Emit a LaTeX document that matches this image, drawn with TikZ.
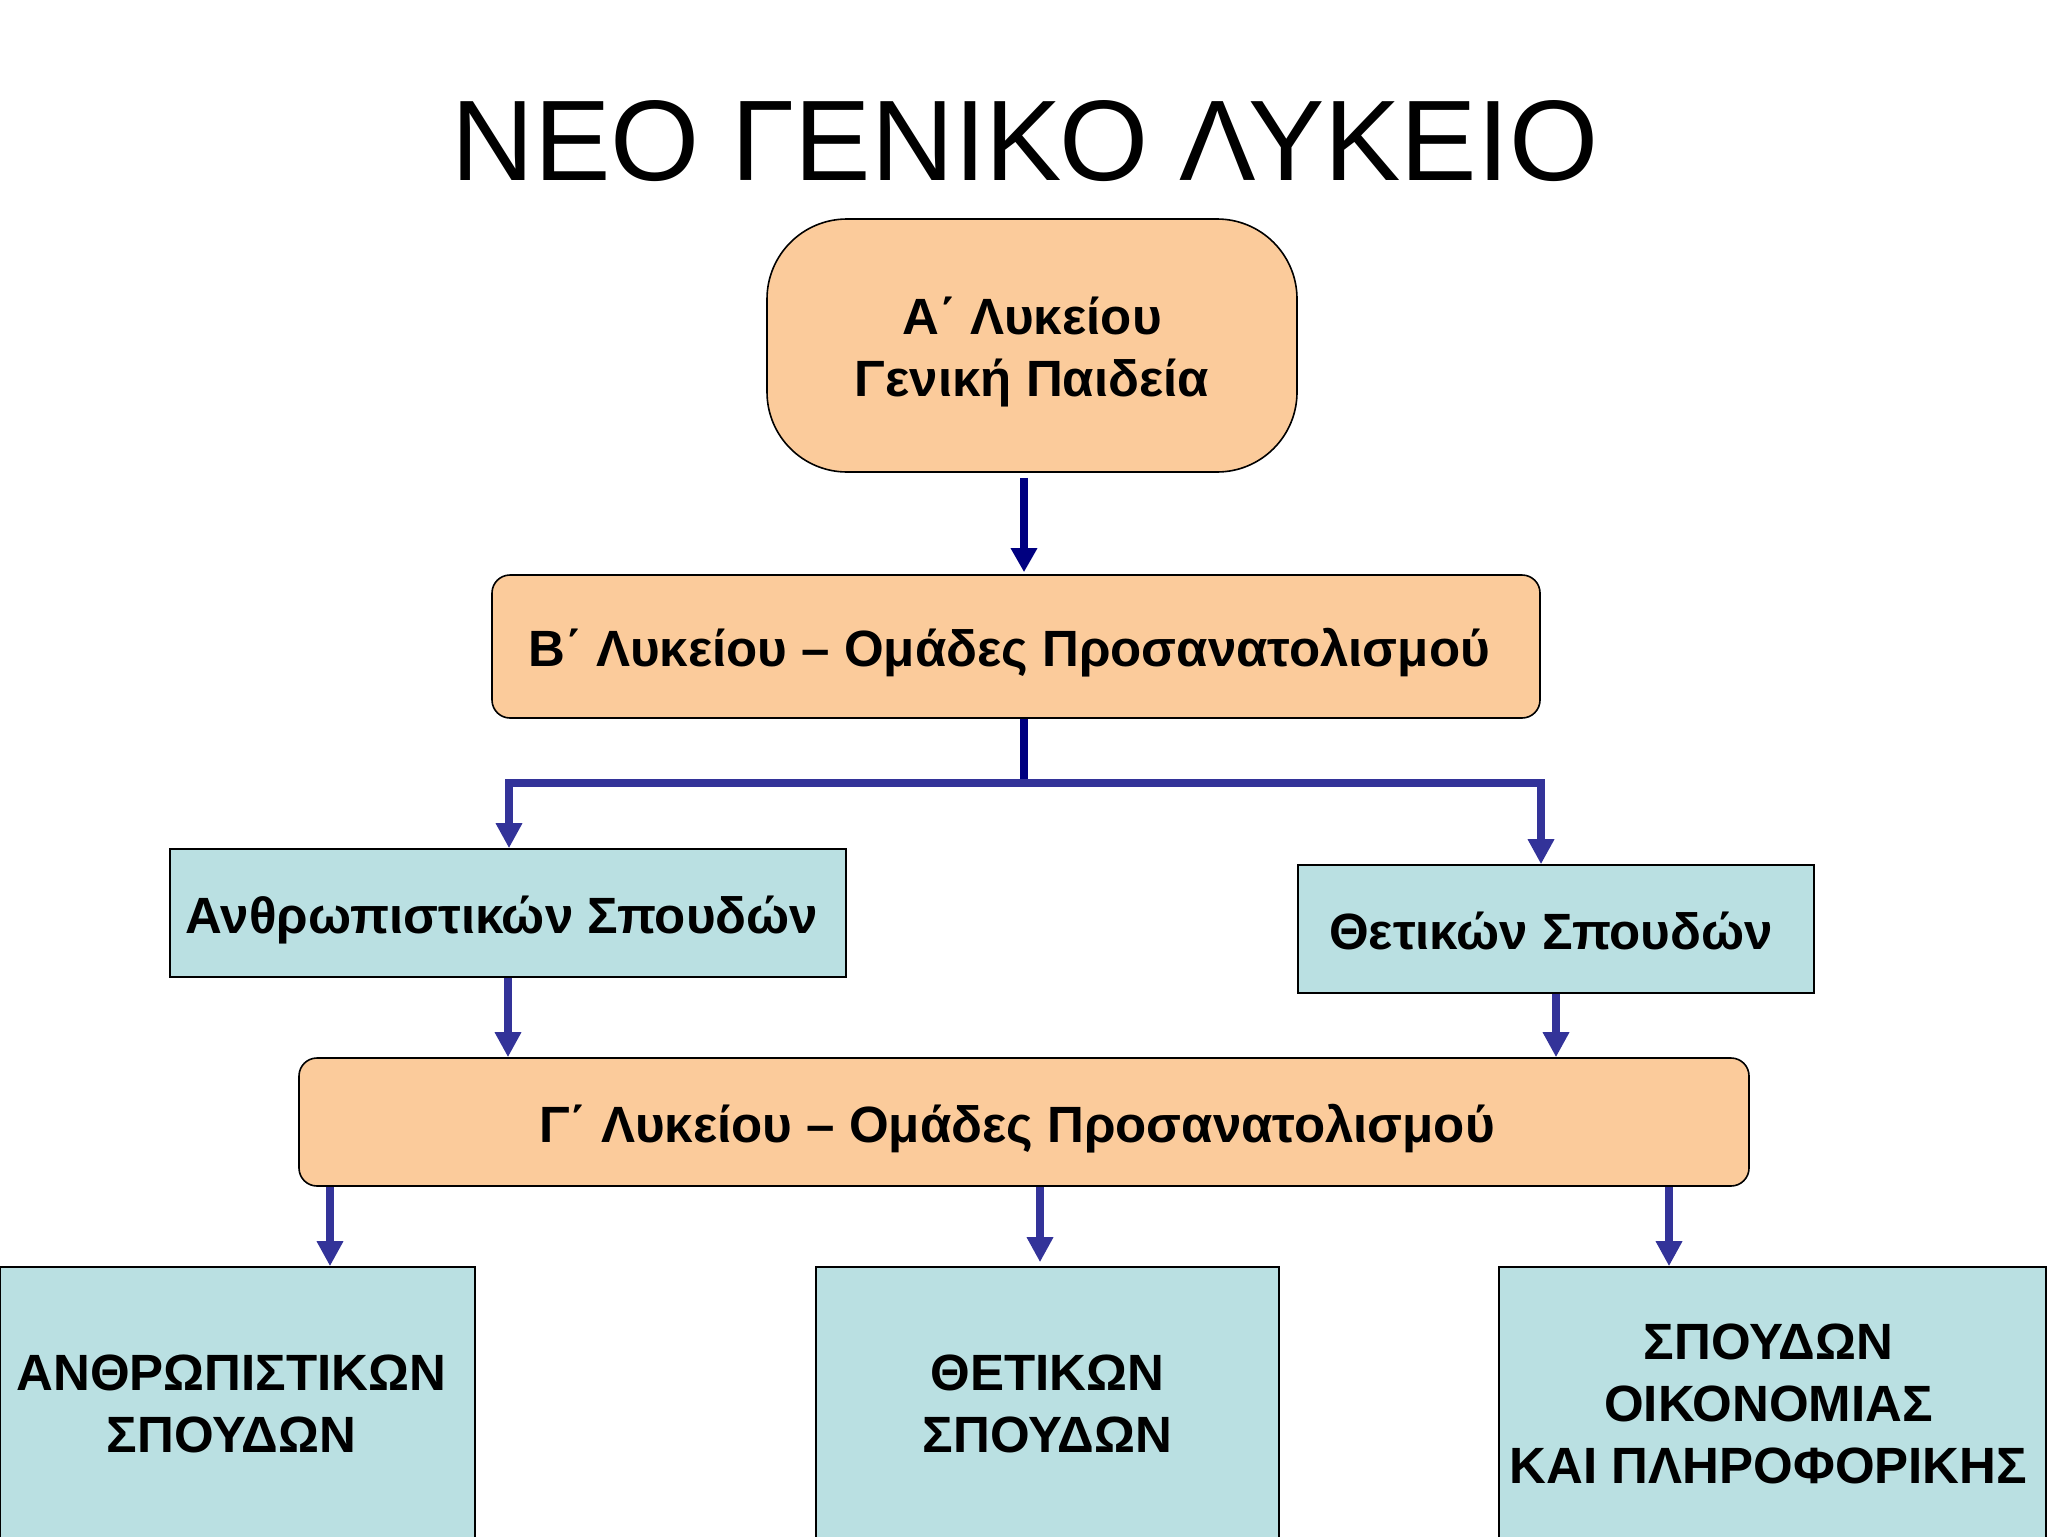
\documentclass[tikz,border=0pt]{standalone}
\usepackage{fontspec}
\setmainfont{Liberation Sans}
\usetikzlibrary{arrows.meta}
\definecolor{peachc}{HTML}{FBCB9B}
\definecolor{bluec}{HTML}{BAE0E2}
\definecolor{navyc}{HTML}{000080}
\definecolor{linec}{HTML}{333399}
\begin{document}
\begin{tikzpicture}[x=0.5pt,y=-0.5pt,
  txt/.style={font=\bfseries\fontsize{25.5}{31}\selectfont,align=center,inner sep=0pt},
  oneline/.style={text height=20pt,text depth=0pt},
  peachbox/.style={txt,draw=black,line width=0.8pt,fill=peachc},
  bluebox/.style={txt,draw=black,line width=0.8pt,fill=bluec},
  navyarrow/.style={draw=navyc,line width=4.4pt,-{Triangle[width=12.5pt,length=12pt]}},
  bluearrow/.style={draw=linec,line width=3.6pt,-{Triangle[width=12.5pt,length=12.5pt]}},
  bluebar/.style={draw=linec,line width=3.6pt,line cap=rect}]
\fill[white] (0,0) rectangle (2048,1536);
\useasboundingbox (0,0) rectangle (2048,1536);
\clip (0,0) rectangle (2048,1536);

\node[font=\fontsize{57.3}{60}\selectfont,inner sep=0pt] (T) at (1025,141) {ΝΕΟ ΓΕΝΙΚΟ ΛΥΚΕΙΟ};

\node[peachbox,minimum width=265pt,minimum height=126.5pt,rounded corners=40pt] (A) at (1032,345.5) {\rule{0pt}{25.5pt}Α΄ Λυκείου\\Γενική Παιδεία};
\node[peachbox,oneline,minimum width=524pt,minimum height=71.5pt,rounded corners=9pt] (B) at (1016,646.5) {Β΄ Λυκείου – Ομάδες Προσανατολισμού\kern7pt};
\node[bluebox,oneline,minimum width=338pt,minimum height=64pt] (H) at (508,913) {Ανθρωπιστικών Σπουδών\kern6pt};
\node[bluebox,oneline,minimum width=258pt,minimum height=64pt] (F) at (1556,929) {Θετικών Σπουδών\kern5pt};
\node[peachbox,oneline,minimum width=725pt,minimum height=64pt,rounded corners=9pt] (G) at (1024,1122) {Γ΄ Λυκείου – Ομάδες Προσανατολισμού\kern7pt};
\node[bluebox,minimum width=237.5pt,minimum height=139pt] (D1) at (237.5,1406) {ΑΝΘΡΩΠΙΣΤΙΚΩΝ\kern6pt\\ΣΠΟΥΔΩΝ\kern6pt\rule[-2.6pt]{0pt}{2.6pt}};
\node[bluebox,minimum width=231.5pt,minimum height=139pt] (D2) at (1047.5,1406) {ΘΕΤΙΚΩΝ\\ΣΠΟΥΔΩΝ\rule[-2.6pt]{0pt}{2.6pt}};
\node[bluebox,minimum width=273.5pt,minimum height=139pt] (D3) at (1772.5,1406) {ΣΠΟΥΔΩΝ\kern4pt\\ΟΙΚΟΝΟΜΙΑΣ\kern4pt\\ΚΑΙ ΠΛΗΡΟΦΟΡΙΚΗΣ\kern4pt\rule[-2.6pt]{0pt}{2.6pt}};

\coordinate (m) at (1024,783);
\coordinate (jl) at (509,783);
\coordinate (jr) at (1541,783);
\coordinate (g1) at (330,1186);
\coordinate (g2) at (1040,1186);
\coordinate (g3) at (1669,1186);

\draw[navyarrow,shorten <=2.5pt,shorten >=1pt] (A.south -| m) -- (B.north -| m);
\draw[draw=navyc,line width=4.4pt] (B.south -| m) -- (m);
\draw[bluebar] (jl) -- (jr);
\draw[bluearrow] (jl) -- (H.north -| jl);
\draw[bluearrow] (jr) -- (F.north -| jr);
\draw[bluearrow] (H.south) -- (G.north -| H.south);
\draw[bluearrow] (F.south) -- (G.north -| F.south);
\draw[bluearrow] (G.south -| g1) -- (D1.north -| g1);
\draw[bluearrow] (G.south -| g2) -- ([yshift=2pt]D2.north -| g2);
\draw[bluearrow] (G.south -| g3) -- (D3.north -| g3);
\end{tikzpicture}
\end{document}
